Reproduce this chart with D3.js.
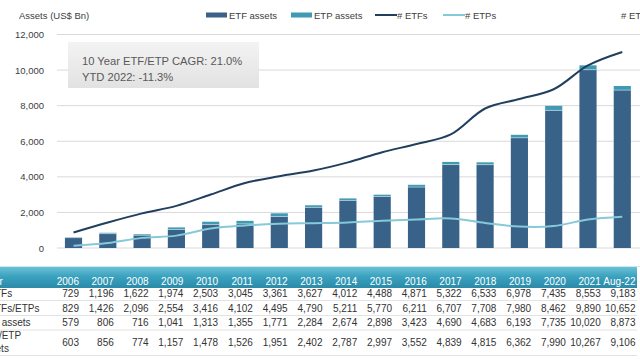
<!DOCTYPE html>
<html><head><meta charset="utf-8">
<script src="https://cdn.jsdelivr.net/npm/d3@7"></script>
<style>
html,body{margin:0;padding:0;background:#fff;overflow:hidden;}
svg{display:block;font-family:"Liberation Sans",Arial,sans-serif;}
</style></head>
<body>
<script>
const years = ["2006","2007","2008","2009","2010","2011","2012","2013","2014","2015","2016","2017","2018","2019","2020","2021","Aug-22"];
const numETFs = [729,1196,1622,1974,2503,3045,3361,3627,4012,4488,4871,5322,6533,6978,7435,8553,9183];
const numETFsETPs = [829,1426,2096,2554,3416,4102,4495,4790,5211,5770,6211,6707,7708,7980,8462,9890,10652];
const etfAssets = [579,806,716,1041,1313,1355,1771,2284,2674,2898,3423,4690,4683,6193,7735,10020,8873];
const etfEtpAssets = [603,856,774,1157,1478,1526,1951,2402,2787,2997,3552,4839,4815,6362,7990,10267,9106];
const leftTicks = [0,2000,4000,6000,8000,10000,12000];
const rowLabels = [["# ETFs"],["# ETFs/ETPs"],["ETF assets"],["ETF/ETP","assets"]];
const annotation = ["10 Year ETF/ETP CAGR: 21.0%","YTD 2022: -11.3%"];
const numETPs = numETFsETPs.map((v,i)=>v-numETFs[i]);

const W=640,H=360;
const svg=d3.select("body").append("svg").attr("width",W).attr("height",H);
const defs=svg.append("defs");
const g1=defs.append("linearGradient").attr("id","boxg").attr("x1",0).attr("y1",0).attr("x2",0).attr("y2",1);
g1.append("stop").attr("offset","0%").attr("stop-color","#f3f3f3");
g1.append("stop").attr("offset","100%").attr("stop-color","#e2e2e2");
const g2=defs.append("linearGradient").attr("id","hdrg").attr("x1",0).attr("y1",0).attr("x2",0).attr("y2",1);
g2.append("stop").attr("offset","0%").attr("stop-color","#6cc0d6");
g2.append("stop").attr("offset","45%").attr("stop-color","#3aa2bf");
g2.append("stop").attr("offset","100%").attr("stop-color","#2b8aa8");

const x=d3.scaleBand().domain(years).range([56.35,639.45]).paddingInner(0.5).paddingOuter(0.25);
const y=d3.scaleLinear().domain([0,12000]).range([248,34.5]);
const yR=d3.scaleLinear().domain([0,10000]).range([248,34.5]);

// grid
const yAxis=d3.axisLeft(y).tickValues(leftTicks).tickSize(0).tickPadding(0).tickFormat(d3.format(","));
const ga=svg.append("g").attr("transform","translate(44,0)").call(yAxis);
ga.select(".domain").remove();
ga.selectAll("text").attr("fill","#404040").attr("font-size",9.5).attr("font-family","Liberation Sans, Arial");
svg.append("g").selectAll("line").data(leftTicks).join("line")
 .attr("x1",57).attr("x2",640).attr("y1",d=>y(d)).attr("y2",d=>y(d))
 .attr("stroke","#d9d9d9").attr("stroke-width",1);

// bars
const bars=svg.append("g");
bars.selectAll("rect.etf").data(years).join("rect").attr("class","etf")
 .attr("x",d=>x(d)).attr("width",x.bandwidth())
 .attr("y",(d,i)=>y(etfAssets[i])).attr("height",(d,i)=>y(0)-y(etfAssets[i]))
 .attr("fill","#386287");
bars.selectAll("rect.etp").data(years).join("rect").attr("class","etp")
 .attr("x",d=>x(d)).attr("width",x.bandwidth())
 .attr("y",(d,i)=>y(etfEtpAssets[i])).attr("height",(d,i)=>y(etfAssets[i])-y(etfEtpAssets[i]))
 .attr("fill","#3f9ab3");
bars.selectAll("line.sep").data(years).join("line").attr("class","sep")
 .attr("x1",d=>x(d)).attr("x2",d=>x(d)+x.bandwidth())
 .attr("y1",(d,i)=>y(etfAssets[i])).attr("y2",(d,i)=>y(etfAssets[i]))
 .attr("stroke","#ffffff").attr("stroke-opacity",0.5).attr("stroke-width",0.8);

// lines
const cx=d=>x(d)+x.bandwidth()/2;
const line=d3.line().x((d,i)=>cx(years[i])).y(d=>yR(d)).curve(d3.curveCatmullRom.alpha(0.5));
svg.append("path").datum(numETPs).attr("d",line).attr("fill","none").attr("stroke","#86c9da").attr("stroke-width",2);
svg.append("path").datum(numETFs).attr("d",line).attr("fill","none").attr("stroke","#203f5e").attr("stroke-width",2);

// annotation box
svg.append("rect").attr("x",68).attr("y",42).attr("width",191).attr("height",46).attr("fill","url(#boxg)");
svg.append("g").selectAll("text").data(annotation).join("text")
 .attr("x",82).attr("y",(d,i)=>65+i*16).attr("font-size",11.2).attr("fill","#595959").text(d=>d);

// axis titles
svg.append("text").attr("x",19).attr("y",18.5).attr("font-size",9.5).attr("fill","#404040").text("Assets (US$ Bn)");
svg.append("text").attr("x",621).attr("y",18.5).attr("font-size",9.5).attr("fill","#404040").text("# ETFs/ETPs");

// legend
const leg=[{t:"ETF assets",type:"rect",c:"#386287",x:206},{t:"ETP assets",type:"rect",c:"#3f9ab3",x:291},
 {t:"# ETFs",type:"line",c:"#203f5e",x:375},{t:"# ETPs",type:"line",c:"#86c9da",x:443}];
const lg=svg.append("g").selectAll("g").data(leg).join("g").attr("transform",d=>`translate(${d.x},15)`);
lg.filter(d=>d.type==="rect").append("rect").attr("x",0).attr("y",-2.5).attr("width",21).attr("height",5).attr("fill",d=>d.c);
lg.filter(d=>d.type==="line").append("line").attr("x1",0).attr("x2",22).attr("y1",0).attr("y2",0).attr("stroke",d=>d.c).attr("stroke-width",2);
lg.append("text").attr("x",d=>d.type==="rect"?23:22).attr("y",3.5).attr("font-size",9.5).attr("fill","#404040").text(d=>d.t);

// table
const tx=d3.scalePoint().domain(years).range([79,635.5]);
svg.append("line").attr("x1",0).attr("x2",640).attr("y1",266.5).attr("y2",266.5).attr("stroke","#cfe9f0").attr("stroke-width",1);
svg.append("rect").attr("x",0).attr("y",267).attr("width",637).attr("height",21).attr("fill","url(#hdrg)");
svg.append("text").attr("x",-17.5).attr("y",285).attr("font-size",10).attr("fill","#fff").text("Year");
svg.append("g").selectAll("text").data(years).join("text")
 .attr("x",d=>tx(d)).attr("y",285).attr("text-anchor","end").attr("font-size",10).attr("fill","#fff").text(d=>d);
const rows=[numETFs,numETFsETPs,etfAssets,etfEtpAssets];
const rowY=[296.5,311.5,326,345.5];
const sepY=[300.5,315.5,330,355.5];
svg.append("g").selectAll("line").data(sepY).join("line")
 .attr("x1",0).attr("x2",637).attr("y1",d=>d).attr("y2",d=>d).attr("stroke","#e3e3e3");
const fmt=d3.format(",");
rows.forEach((r,ri)=>{
  svg.append("g").selectAll("text").data(r).join("text")
   .attr("x",(d,i)=>tx(years[i])).attr("y",rowY[ri]).attr("text-anchor","end")
   .attr("font-size",10).attr("fill","#333").text(d=>fmt(d));
  const lab=rowLabels[ri];
  svg.append("g").selectAll("text").data(lab).join("text")
   .attr("x",-20).attr("y",(d,i)=>lab.length===1?rowY[ri]:338.5+i*13).attr("font-size",10).attr("fill","#333").text(d=>d);
});
</script>
</body></html>
